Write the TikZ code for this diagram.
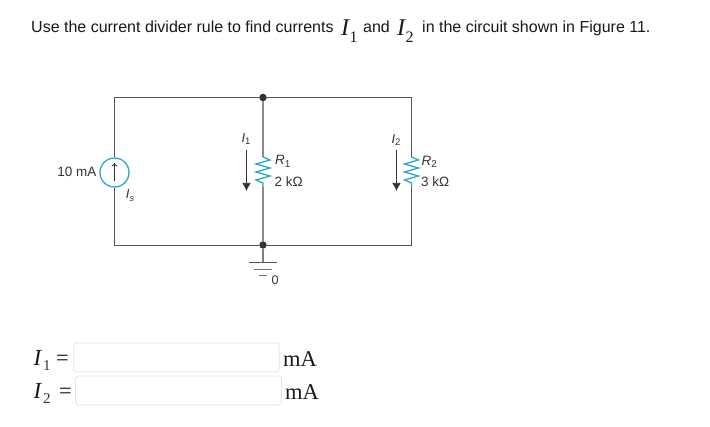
\documentclass[tikz,border=0pt]{standalone}
\usepackage{fontspec}
\setmainfont{Liberation Sans}
\newfontfamily\serifx{Liberation Serif}
\usetikzlibrary{arrows.meta}
\definecolor{tealc}{HTML}{2FA9C2}
\definecolor{wirec}{HTML}{555555}
\definecolor{lab}{HTML}{333333}
\definecolor{boxc}{HTML}{E4E4E4}
\tikzset{
 wire/.style={draw=wirec,line width=0.9pt},
 res/.style={draw=tealc,line width=1.3pt,line join=miter},
 lbl/.style={inner sep=0pt,text=lab,font=\fontsize{13.5}{15}\selectfont},
 ilbl/.style={inner sep=0pt,text=lab,font=\fontsize{13}{14}\selectfont\itshape},
 head/.style={inner sep=0pt,text=black!90,font=\fontsize{16}{19}\selectfont,anchor=base west},
 mathv/.style={inner sep=0pt,text=black!90,font=\serifx\fontsize{24}{26}\selectfont\itshape,anchor=base west},
 subv/.style={inner sep=0pt,text=black!90,font=\serifx\fontsize{16}{19}\selectfont,anchor=base west},
 ansv/.style={inner sep=0pt,text=black!90,font=\serifx\fontsize{22.5}{25}\selectfont,anchor=base west},
 ansi/.style={inner sep=0pt,text=black!90,font=\serifx\fontsize{23}{25}\selectfont\itshape,anchor=base west},
 anss/.style={inner sep=0pt,text=black!80,font=\serifx\fontsize{15}{17}\selectfont,anchor=base west},
 inbox/.style={draw=boxc,line width=0.8pt,rounded corners=3pt,fill=white,inner sep=0pt},
 curarrow/.style={draw=lab,line width=0.7pt,-{Latex[length=8pt,width=8.5pt]}},
}
\begin{document}
\begin{tikzpicture}[x=1pt,y=-1pt]
\useasboundingbox[fill=white] (0,0) rectangle (710,427);
% heading
\node[head] (h1) at (31,33) {Use the current divider rule to find currents};
\node[mathv] (h2) at (341,35.5) {I};
\node[subv] (h3) at (349.5,42.5) {1};
\node[head] (h4) at (363,33) {and};
\node[mathv] (h5) at (397,35.5) {I};
\node[subv] (h6) at (405.5,42.5) {2};
\node[head] (h7) at (422,33) {in the circuit shown in Figure 11.};
% junctions and corners
\coordinate (tl) at (114.5,97.5);
\coordinate (tr) at (411.5,97.5);
\coordinate (bl) at (114.5,245);
\coordinate (br) at (411.5,245);
\node[circle,fill=black!80,inner sep=0pt,minimum size=7.5pt] (jt) at (263,97.5) {};
\node[circle,fill=black!80,inner sep=0pt,minimum size=7.5pt] (jb) at (263,245) {};
\node[circle,draw=tealc,line width=1.3pt,inner sep=0pt,minimum size=29pt] (src) at (114.5,172.5) {};
\coordinate (r1t) at (263,157);
\coordinate (r1b) at (263,187);
\coordinate (r2t) at (411.5,157);
\coordinate (r2b) at (411.5,187);
\coordinate (gnd) at (263,262);
% wires
\draw[wire] (src.north) -- (tl) -- (jt) -- (tr) -- (r2t);
\draw[wire] (src.south) -- (bl) -- (jb) -- (br) -- (r2b);
\draw[wire,draw=black!45,line width=1.2pt] (jt) -- (r1t);
\draw[wire,draw=black!45,line width=1.2pt] (r1b) -- (jb);
\draw[wire,draw=black!50,line width=1.1pt] (jb) -- (gnd);
% source arrow
\coordinate (sa) at (114.5,181);
\coordinate (sb) at (114.5,163);
\draw[draw=lab,line width=0.8pt,-{To[length=3.5pt,width=6pt]}] (sa) -- (sb);
% resistors
\draw[res] (r1t) -- ++(7,3) -- ++(-14,4) -- ++(14,4) -- ++(-14,4) -- ++(14,4) -- ++(-14,4) -- ++(7,3) -- (r1b);
\draw[res] (r2t) -- ++(7,3) -- ++(-14,4) -- ++(14,4) -- ++(-14,4) -- ++(14,4) -- ++(-14,4) -- ++(7,3) -- (r2b);
% ground
\coordinate (g1a) at (249,262); \coordinate (g1b) at (277,262);
\coordinate (g2a) at (254,269); \coordinate (g2b) at (272,269);
\coordinate (g3a) at (259,275.5); \coordinate (g3b) at (267,275.5);
\draw[wire] (g1a) -- (g1b);
\draw[wire,draw=black!55] (g2a) -- (g2b);
\draw[wire,draw=black!55] (g3a) -- (g3b);
% current arrows
\coordinate (i1a) at (246.5,150.5); \coordinate (i1b) at (246.5,191);
\coordinate (i2a) at (396.5,150.5); \coordinate (i2b) at (396.5,191);
\draw[curarrow] (i1a) -- (i1b);
\draw[curarrow] (i2a) -- (i2b);
% labels
\node[lbl,anchor=east] (ls) at (96.5,172) {10 mA};
\node[ilbl] (li) at (130,195.5) {I\raisebox{-2.5pt}{\fontsize{9}{9}\selectfont s}};
\node[ilbl] (l1) at (246,139) {I\raisebox{-2.5pt}{\fontsize{9.5}{9}\selectfont\upshape 1}};
\node[ilbl] (l2) at (396,140) {I\raisebox{-2.5pt}{\fontsize{9.5}{9}\selectfont\upshape 2}};
\node[lbl,anchor=west] (r1n) at (275,161.5) {\itshape R\raisebox{-2.5pt}{\fontsize{10}{10}\selectfont\upshape 1}};
\node[lbl,anchor=west] (r1v) at (274.5,181.5) {2 kΩ};
\node[lbl,anchor=west] (r2n) at (421.5,162) {\itshape R\raisebox{-2.5pt}{\fontsize{10}{10}\selectfont\upshape 2}};
\node[lbl,anchor=west] (r2v) at (421,181.5) {3 kΩ};
\node[lbl,font=\fontsize{12.5}{14}\selectfont] (l0) at (275,280) {0};
% answers
\node[ansi] (a1) at (33.5,366) {I};
\node[anss] (a1s) at (43,371) {1};
\node[ansv] (a1e) at (56,366) {=};
\node[inbox,minimum width=205.5pt,minimum height=29pt] (b1) at (176.5,357.5) {};
\node[ansv] (a1u) at (283,367) {mA};
\node[ansi] (a2) at (33.5,399) {I};
\node[anss] (a2s) at (43,404) {2};
\node[ansv] (a2e) at (59,399) {=};
\node[inbox,minimum width=206pt,minimum height=29pt] (b2) at (178.5,390.5) {};
\node[ansv] (a2u) at (285,400) {mA};
\end{tikzpicture}
\end{document}
